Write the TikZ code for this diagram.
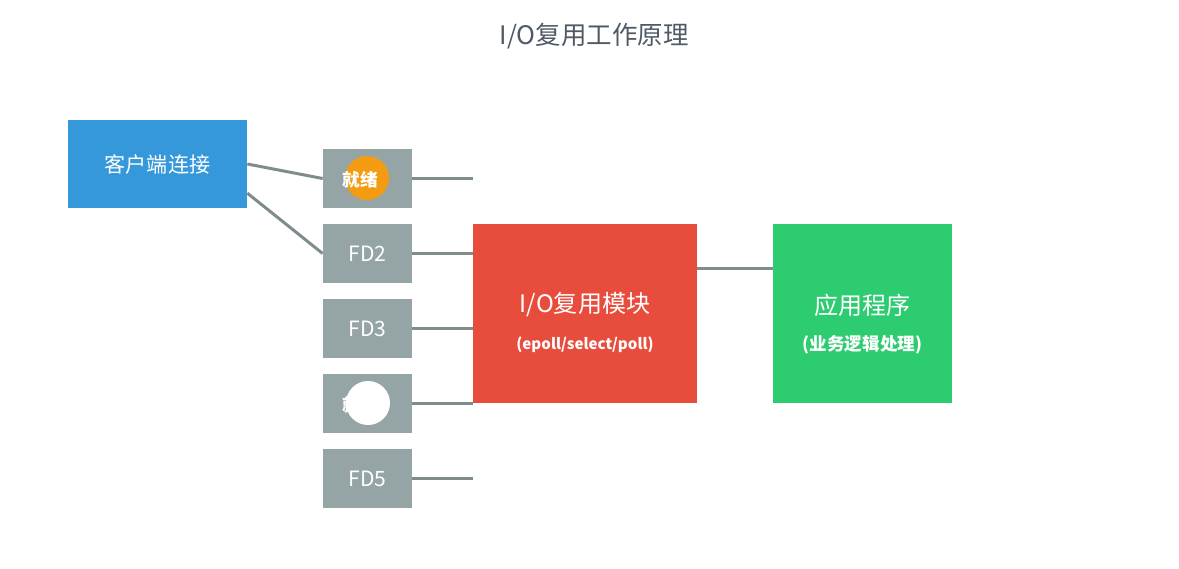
\documentclass[tikz,border=0pt]{standalone}
\usepackage{fontspec}
\newfontfamily\cjk{Noto Sans CJK SC}
\definecolor{clientblue}{HTML}{3498DB}
\definecolor{fdgray}{HTML}{95A5A6}
\definecolor{linegray}{HTML}{7F8C8D}
\definecolor{ioRed}{HTML}{E74C3C}
\definecolor{appgreen}{HTML}{2ECC71}
\definecolor{readyorange}{HTML}{F39C12}
\definecolor{titlegray}{HTML}{4E5A66}
\begin{document}
\begin{tikzpicture}[
    x=0.02cm, y=-0.02cm,
    box/.style={
        rectangle, inner sep=0pt, align=center,
        text=white, font=\cjk
    },
    fdbox/.style={
        box, fill=fdgray, minimum width=1.78cm, minimum height=1.18cm,
        font=\cjk\fontsize{12}{14}\selectfont
    },
    bigbox/.style={box, minimum width=3.58cm, minimum height=3.58cm},
    maintext/.style={text=white, inner sep=0pt, font=\cjk\fontsize{13.7}{16}\selectfont},
    subtext/.style={text=white, inner sep=0pt, font=\cjk\bfseries\fontsize{10}{12}\selectfont},
    dot/.style={circle, inner sep=0pt, minimum size=0.88cm},
    dottext/.style={font=\cjk\bfseries\fontsize{10}{12}\selectfont, text=white, inner sep=0pt},
    link/.style={draw=linegray, line width=1.7pt}
]
\useasboundingbox (0,0) rectangle (1179,568);

% Title
\node[font=\cjk\fontsize{14.5}{17}\selectfont, text=titlegray] (title) at (594,36) {I/O复用工作原理};

% Client side
\node[box, fill=clientblue, minimum width=3.58cm, minimum height=1.76cm,
      font=\cjk\fontsize{12}{14}\selectfont] (client) at (157.5,164) {客户端连接};

% File descriptors
\node[fdbox] (fd1) at (367.5,178.5) {};
\node[fdbox] (fd2) at (367.5,253.5) {FD2};
\node[fdbox] (fd3) at (367.5,328.5) {FD3};
\node[fdbox] (fd4) at (367.5,403.5) {};
\node[fdbox] (fd5) at (367.5,478.5) {FD5};

% Ready markers
\node[dot, fill=readyorange] (ready1) at (367,178) {};
\node[dottext] (readytext1) at (360.5,180) {就绪};
\node[dot, fill=white] (ready4) at (368,403) {};
\node[dottext] (readytext4) at (360.5,405) {就绪};

% I/O multiplexing and application
\node[bigbox, fill=ioRed, minimum width=4.48cm] (io) at (585,313.5) {};
\node[maintext] (iotitle) at ([yshift=0.17cm]io.center) {I/O复用模块};
\node[subtext, font=\cjk\bfseries\fontsize{8.6}{10}\selectfont] (iosub) at ([yshift=-0.63cm]io.center) {(epoll/select/poll)};
\node[bigbox, fill=appgreen] (app) at (862.5,313.5) {};
\node[maintext] (apptitle) at ([yshift=0.17cm]app.center) {应用程序};
\node[subtext] (appsub) at ([yshift=-0.63cm]app.center) {(业务逻辑处理)};

% Connections
\draw[link] (client.east) -- (fd1.west);
\draw[link] (client.-18) -- (fd2.west);
\draw[link] (fd1.east) -- (fd1.east -| io.west);
\draw[link] (fd2.east) -- (fd2.east -| io.west);
\draw[link] (fd3.east) -- (fd3.east -| io.west);
\draw[link] (fd4.east) -- (fd4.east -| io.west);
\draw[link] (fd5.east) -- (fd5.east -| io.west);
\draw[link] ([yshift=0.91cm]io.east) -- ([yshift=0.91cm]app.west);

\end{tikzpicture}
\end{document}
